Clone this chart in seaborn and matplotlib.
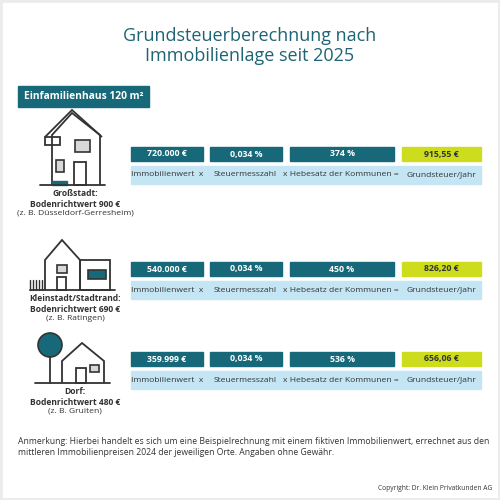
import matplotlib
matplotlib.use("Agg")
import matplotlib.pyplot as plt
import seaborn as sns
from matplotlib.patches import Rectangle, Polygon

sns.set_theme(style="white")
plt.rcParams["font.family"] = ["Open Sans", "DejaVu Sans"]

# data
title = "Grundsteuerberechnung nach\nImmobilienlage seit 2025"
header = "Einfamilienhaus 120 m²"
loc_bold = ["Großstadt:\nBodenrichtwert 900 €",
            "Kleinstadt/Stadtrand:\nBodenrichtwert 690 €",
            "Dorf:\nBodenrichtwert 480 €"]
loc_example = ["(z. B. Düsseldorf-Gerresheim)", "(z. B. Ratingen)", "(z. B. Gruiten)"]
immobilienwert = ["720.000 €", "540.000 €", "359.999 €"]
steuermesszahl = ["0,034 %", "0,034 %", "0,034 %"]
hebesatz = ["374 %", "450 %", "536 %"]
grundsteuer = ["915,55 €", "826,20 €", "656,06 €"]
formula = ["Immobilienwert  x", "Steuermesszahl", "x Hebesatz der Kommunen =", "Grundsteuer/Jahr"]
note = ("Anmerkung: Hierbei handelt es sich um eine Beispielrechnung mit einem fiktiven Immobilienwert, errechnet aus den\n"
        "mittleren Immobilienpreisen 2024 der jeweiligen Orte. Angaben ohne Gewähr.")
copyright_text = "Copyright: Dr. Klein Privatkunden AG"

TEAL = "#17697a"
LIME = "#cddc1c"
LIGHT = "#c4e6f4"
DARK = "#333333"

fig = plt.figure(figsize=(5, 5), dpi=100)
ax = fig.add_axes([0, 0, 1, 1])
ax.set_xlim(0, 500)
ax.set_ylim(500, 0)
ax.axis("off")

ax.add_patch(Rectangle((0, 0), 500, 500, color="#ebebeb"))
ax.add_patch(Rectangle((3, 3), 494, 494, color="white"))

ax.text(250, 46, title, ha="center", va="center", fontsize=13, color="#1d6474",
        linespacing=1.2, fontweight="medium")
ax.add_patch(Rectangle((18, 86), 131, 21, color=TEAL))
ax.text(24, 96.5, header, ha="left", va="center", fontsize=7.4, color="white", fontweight="bold")

cols = [(131, 72), (210, 72), (290, 104), (402, 79)]
label_x = [167, 245, 341, 441]
row_y = [147, 262, 352]


def house(ybase, kind):
    kw = dict(fill=False, ec=DARK, lw=1.3)
    if kind == 0:
        ax.add_patch(Polygon([(52, ybase), (52, ybase - 50), (72, ybase - 72), (100, ybase - 50), (100, ybase)], closed=False, **kw))
        ax.add_patch(Polygon([(45, ybase - 48), (72, ybase - 75), (102, ybase - 48)], closed=False, **kw))
        ax.add_patch(Rectangle((75, ybase - 45), 15, 12, fc="#d8d8d8", ec=DARK, lw=1.2))
        ax.add_patch(Rectangle((56, ybase - 25), 8, 12, fc="#d8d8d8", ec=DARK, lw=1.2))
        ax.add_patch(Rectangle((74, ybase - 23), 12, 23, **kw))
        ax.add_patch(Rectangle((45, ybase - 48), 15, 8, **kw))
        ax.add_patch(Rectangle((52, ybase - 4), 15, 4, color=TEAL))
        ax.plot([40, 105], [ybase, ybase], color=DARK, lw=1.3)
    elif kind == 1:
        ax.add_patch(Polygon([(45, ybase), (45, ybase - 30), (62, ybase - 50), (80, ybase - 30), (80, ybase)], closed=False, **kw))
        ax.add_patch(Rectangle((80, ybase - 30), 30, 30, **kw))
        ax.add_patch(Rectangle((88, ybase - 20), 18, 9, fc=TEAL, ec=DARK, lw=1.2))
        ax.add_patch(Rectangle((57, ybase - 25), 10, 8, fc="#d8d8d8", ec=DARK, lw=1.2))
        ax.add_patch(Rectangle((57, ybase - 13), 9, 13, **kw))
        ax.plot([30, 115], [ybase, ybase], color=DARK, lw=1.3)
        for xx in range(30, 44, 3):
            ax.plot([xx, xx], [ybase - 10, ybase], color=DARK, lw=1)
    else:
        ax.add_patch(Polygon([(62, ybase), (62, ybase - 22), (82, ybase - 40), (104, ybase - 22), (104, ybase)], closed=False, **kw))
        ax.add_patch(Rectangle((76, ybase - 15), 10, 15, **kw))
        ax.add_patch(Rectangle((90, ybase - 18), 9, 7, fc="#d8d8d8", ec=DARK, lw=1.2))
        ax.add_patch(plt.Circle((50, ybase - 38), 12, fc=TEAL, ec=DARK, lw=1.2))
        ax.plot([50, 50], [ybase - 26, ybase], color=DARK, lw=1.3)
        ax.plot([35, 110], [ybase, ybase], color=DARK, lw=1.3)


house_base = [185, 290, 383]
for i in range(3):
    y = row_y[i]
    vals = [immobilienwert[i], steuermesszahl[i], hebesatz[i], grundsteuer[i]]
    for j, ((x, w), v) in enumerate(zip(cols, vals)):
        ax.add_patch(Rectangle((x, y), w, 14, color=LIME if j == 3 else TEAL))
        ax.text(x + w / 2, y + 7, v, ha="center", va="center", fontsize=6.3,
                color=DARK if j == 3 else "white", fontweight="bold")
    ax.add_patch(Rectangle((131, y + 19), 350, 18, color=LIGHT))
    for lx, lab in zip(label_x, formula):
        ax.text(lx, y + 28, lab, ha="center", va="center", fontsize=6.1, color=DARK)
    house(house_base[i], i)
    b = house_base[i]
    ax.text(75, b + 14, loc_bold[i], ha="center", va="center", fontsize=6.1,
            color=DARK, linespacing=1.35, fontweight="bold")
    ax.text(75, b + 28, loc_example[i], ha="center", va="center", fontsize=6.1, color=DARK)

ax.text(18, 447, note, ha="left", va="center", fontsize=6.2, color=DARK, linespacing=1.3)
ax.text(492, 488, copyright_text, ha="right", va="center", fontsize=4.8, color=DARK)

fig.savefig("out.png", dpi=100)
